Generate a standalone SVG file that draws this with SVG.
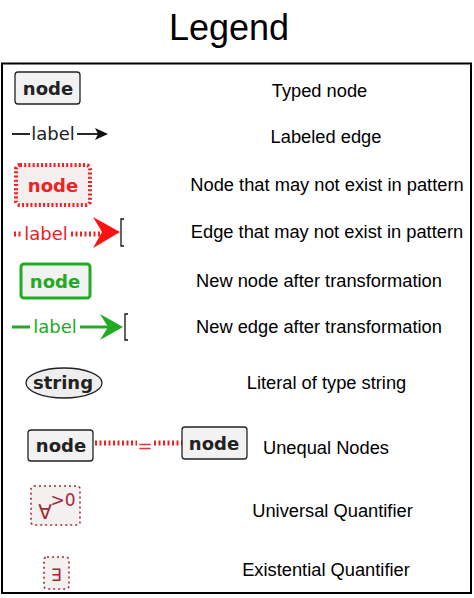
<svg xmlns="http://www.w3.org/2000/svg" width="474" height="598" viewBox="0 0 474 598">
<style>
.t{font-family:"Liberation Sans",Arial,sans-serif;font-size:18.3px;fill:#000;text-anchor:middle}
.nl{font-family:"DejaVu Sans",sans-serif;font-size:18px;font-weight:bold;text-anchor:middle}
.el{font-family:"DejaVu Sans",sans-serif;font-size:18px;text-anchor:middle}
.box{fill:#f2f2f2;stroke:#222;stroke-width:1.3}
.q{fill:#f4f0f0;stroke:#a02838;stroke-width:1.6;stroke-dasharray:2,3}
</style>
<rect width="474" height="598" fill="#fff"/>
<text x="229" y="40" font-family="Liberation Sans,Arial,sans-serif" font-size="36" text-anchor="middle">Legend</text>
<rect x="2" y="63.5" width="469" height="529.5" fill="none" stroke="#000" stroke-width="2"/>

<g id="typed-node">
<rect class="box" x="15" y="72" width="65" height="32" rx="3"/>
<text class="nl" x="48" y="95" fill="#222">node</text>
<text class="t" x="319.5" y="97">Typed node</text>
</g>

<g id="connectors">
<g id="labeled-edge">
<line x1="12" y1="134" x2="30" y2="134" stroke="#111" stroke-width="1.8"/>
<text class="el" x="53" y="140" fill="#222">label</text>
<line x1="77" y1="134" x2="100" y2="134" stroke="#111" stroke-width="1.8"/>
<path d="M95,128 L108,134 L95,140 L98,134 Z" fill="#111"/>
<text class="t" x="326" y="143">Labeled edge</text>
</g>
<g id="optional-edge">
<line x1="14" y1="234" x2="21" y2="234" stroke="#ee2222" stroke-width="5" stroke-dasharray="2,2.5"/>
<text class="el" x="46" y="240" fill="#ee2222">label</text>
<line x1="71" y1="234" x2="102" y2="234" stroke="#ee2222" stroke-width="5" stroke-dasharray="2,2.5"/>
<path d="M93,217 L120,232 L93,248 L102,232 Z" fill="#ff1111"/>
<path d="M124,219 L121,219 L121,246 L124,246" fill="none" stroke="#111" stroke-width="1.3"/>
<text class="t" x="327" y="238">Edge that may not exist in pattern</text>
</g>
<g id="new-edge">
<line x1="12" y1="327" x2="30" y2="327" stroke="#22aa22" stroke-width="3"/>
<text class="el" x="55" y="333" fill="#22aa22">label</text>
<line x1="80" y1="327" x2="110" y2="327" stroke="#22aa22" stroke-width="3"/>
<path d="M100,314 L123,327 L100,340 L108,327 Z" fill="#22aa22"/>
<path d="M128,314 L125,314 L125,340 L128,340" fill="none" stroke="#111" stroke-width="1.3"/>
<text class="t" x="319" y="333">New edge after transformation</text>
</g>
<g id="unequal-edge">
<line x1="95" y1="443" x2="137" y2="443" stroke="#ee2222" stroke-width="5" stroke-dasharray="2,2.5"/>
<text x="145" y="452" font-family="DejaVu Sans,sans-serif" font-size="18" fill="#ee3333" text-anchor="middle">=</text>
<line x1="154" y1="443" x2="182" y2="443" stroke="#ee2222" stroke-width="5" stroke-dasharray="2,2.5"/>
</g>
</g>

<g id="optional-node">
<rect x="16" y="165" width="74" height="40" rx="4" fill="#f4eeee" stroke="#ee2222" stroke-width="4" stroke-dasharray="2,2.2"/>
<text class="nl" x="53" y="192" fill="#ee2222">node</text>
<text class="t" x="327" y="191">Node that may not exist in pattern</text>
</g>

<g id="new-node">
<rect x="21" y="264" width="69" height="34" rx="3" fill="#f2f2f2" stroke="#22aa22" stroke-width="3"/>
<text class="nl" x="55" y="288" fill="#22aa22">node</text>
<text class="t" x="319" y="287">New node after transformation</text>
</g>

<g id="literal">
<ellipse cx="64" cy="383" rx="38" ry="15" fill="#eeeeee" stroke="#222" stroke-width="1.3"/>
<text class="nl" x="63" y="389" fill="#222">string</text>
<text class="t" x="326.5" y="389">Literal of type string</text>
</g>

<g id="unequal-node-a">
<rect class="box" x="28" y="430" width="65" height="31" rx="3"/>
<text class="nl" x="61" y="452" fill="#222">node</text>
</g>
<g id="unequal-node-b">
<rect class="box" x="182" y="427" width="65" height="32" rx="3"/>
<text class="nl" x="214" y="450" fill="#222">node</text>
<text class="t" x="326" y="454">Unequal Nodes</text>
</g>

<g id="universal">
<rect class="q" x="31" y="486" width="49" height="39" rx="3"/>
<text x="45" y="519" font-family="DejaVu Sans,sans-serif" font-size="20" fill="#a02838" text-anchor="middle">∀</text>
<text x="63" y="506" font-family="DejaVu Sans,sans-serif" font-size="17" fill="#a02838" text-anchor="middle">&gt;0</text>
<text class="t" x="332.5" y="517">Universal Quantifier</text>
</g>

<g id="existential">
<rect class="q" x="44" y="557" width="25" height="32" rx="3"/>
<text x="56" y="581" font-family="DejaVu Sans,sans-serif" font-size="17" fill="#a02838" text-anchor="middle">∃</text>
<text class="t" x="326" y="576">Existential Quantifier</text>
</g>
</svg>
